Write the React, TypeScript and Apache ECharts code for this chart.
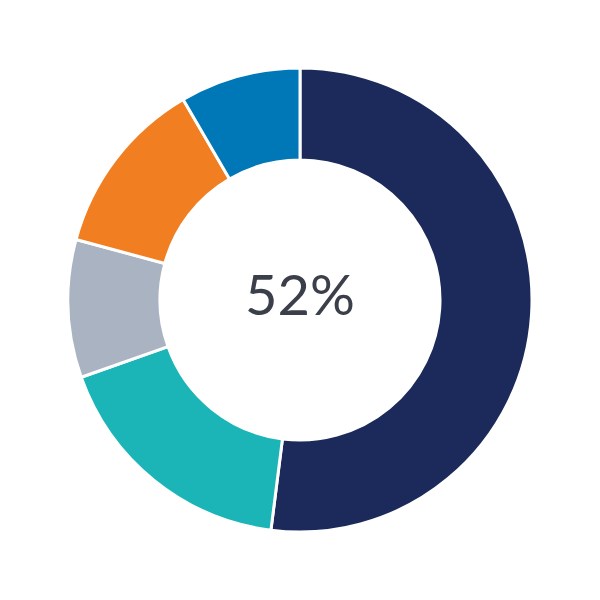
import React, { useEffect, useRef } from "react";
import * as echarts from "echarts";

const categories = ["Navy", "Teal", "Gray", "Orange", "Blue"];
const values = [52, 17.6, 9.6, 12.4, 8.4];
const colors = ["#1b2a5a", "#1bb5b8", "#a9b3c1", "#f17f22", "#0077b6"];
const centerLabel = "52%";

export default function App() {
  const ref = useRef<HTMLDivElement>(null);
  useEffect(() => {
    if (!ref.current) return;
    const chart = echarts.init(ref.current, null, { renderer: "svg" });
    chart.setOption({
      animation: false,
      backgroundColor: "#ffffff",
      graphic: [
        {
          type: "text",
          left: "center",
          top: 265,
          style: {
            text: centerLabel,
            fontFamily: "Lato",
            fontSize: 56,
            fontWeight: 400,
            fill: "#3a3f4a",
          },
        },
      ],
      series: [
        {
          type: "pie",
          center: ["50%", "50%"],
          radius: [140, 232],
          startAngle: 90,
          clockwise: true,
          label: { show: false },
          labelLine: { show: false },
          emphasis: { disabled: true },
          itemStyle: { borderColor: "#ffffff", borderWidth: 3 },
          data: categories.map((name, i) => ({
            name,
            value: values[i],
            itemStyle: { color: colors[i] },
          })),
        },
      ],
    });
    return () => chart.dispose();
  }, []);
  return (
    <div
      ref={ref}
      style={{ position: "fixed", left: 0, top: 0, width: 600, height: 600 }}
    />
  );
}
